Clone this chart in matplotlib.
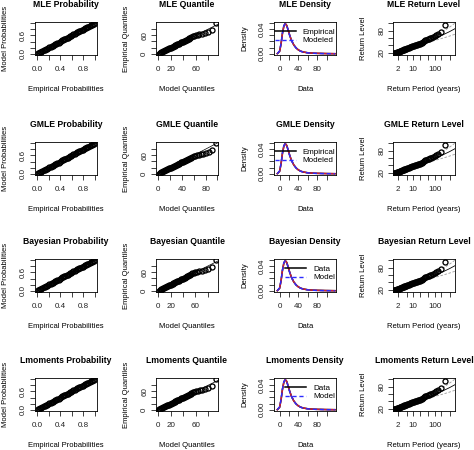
import matplotlib
matplotlib.use("Agg")
import matplotlib.pyplot as plt

# ---------------- data ----------------
methods = ["MLE", "GMLE", "Bayesian", "Lmoments"]
legend_labels = [("Empirical", "Modeled"), ("Empirical", "Modeled"),
                 ("Data", "Model"), ("Data", "Model")]

# probability plot (empirical vs model probabilities)
prob_emp = [0.01, 0.03, 0.05, 0.07, 0.09, 0.11, 0.13, 0.15, 0.17, 0.19,
            0.21, 0.23, 0.25, 0.27, 0.29, 0.31, 0.33, 0.35, 0.37, 0.39,
            0.41, 0.43, 0.45, 0.47, 0.49, 0.51, 0.53, 0.55, 0.57, 0.59,
            0.61, 0.63, 0.65, 0.67, 0.69, 0.71, 0.73, 0.75, 0.77, 0.79,
            0.81, 0.83, 0.85, 0.87, 0.89, 0.91, 0.93, 0.95, 0.97, 0.99]
prob_mod = [0.012, 0.028, 0.047, 0.066, 0.088, 0.108, 0.131, 0.152, 0.171, 0.192,
            0.214, 0.236, 0.251, 0.268, 0.287, 0.306, 0.327, 0.348, 0.369, 0.392,
            0.415, 0.436, 0.452, 0.468, 0.487, 0.508, 0.531, 0.553, 0.574, 0.596,
            0.617, 0.636, 0.655, 0.676, 0.697, 0.718, 0.738, 0.757, 0.774, 0.793,
            0.812, 0.832, 0.851, 0.872, 0.891, 0.911, 0.929, 0.948, 0.968, 0.987]

# quantile plots (model quantiles vs empirical quantiles), one pair per method
q_mod_mle = [0.5, 2, 3.5, 5, 6.5, 8, 9.5, 11, 12.5, 14, 15.5, 17, 18.5, 20, 21.5,
             23, 24.5, 26, 27.5, 29, 30.5, 32, 33.5, 35, 36.5, 38, 39.5, 41, 42.5,
             44, 45.5, 47, 48.5, 50, 51.5, 53, 55, 57, 60, 63, 66, 70, 75, 80, 86, 92]
q_emp_mle = [0.3, 1.8, 3.6, 5.2, 6.3, 8.1, 9.8, 10.8, 12.6, 14.3, 15.2, 17.1, 18.9,
             20.2, 21.3, 23.4, 24.6, 26.3, 27.2, 29.4, 30.8, 32.3, 33.2, 35.4, 36.9,
             38.3, 39.4, 41.6, 42.8, 44.5, 45.7, 47.4, 48.9, 50.6, 52.3, 54.1, 56.2,
             57.5, 59.8, 61.2, 62.5, 64.1, 66.3, 70.2, 75.5, 99.0]
q_mod_gmle = [0.5, 2.1, 3.7, 5.3, 6.9, 8.5, 10.1, 11.7, 13.3, 14.9, 16.5, 18.1, 19.7,
              21.3, 22.9, 24.5, 26.1, 27.7, 29.3, 30.9, 32.5, 34.1, 35.7, 37.3, 38.9,
              40.5, 42.1, 43.7, 45.3, 46.9, 48.5, 50.1, 51.7, 53.3, 55, 57, 59.5,
              62, 65, 68, 72, 76, 80, 85, 91, 97]
q_emp_gmle = [0.3, 1.8, 3.6, 5.2, 6.3, 8.1, 9.8, 10.8, 12.6, 14.3, 15.2, 17.1, 18.9,
              20.2, 21.3, 23.4, 24.6, 26.3, 27.2, 29.4, 30.8, 32.3, 33.2, 35.4, 36.9,
              38.3, 39.4, 41.6, 42.8, 44.5, 45.7, 47.4, 48.9, 50.6, 52.3, 54.1, 56.2,
              57.5, 59.8, 61.2, 62.5, 64.1, 66.3, 70.2, 75.5, 99.0]
q_mod_bayes = [0.6, 2.1, 3.6, 5.1, 6.6, 8.1, 9.6, 11.1, 12.6, 14.1, 15.6, 17.1, 18.6,
               20.1, 21.6, 23.1, 24.6, 26.1, 27.6, 29.1, 30.6, 32.1, 33.6, 35.1, 36.6,
               38.1, 39.6, 41.1, 42.6, 44.1, 45.6, 47.1, 48.6, 50.1, 51.6, 53.2, 55.2,
               57.3, 60.2, 63.3, 66.5, 70.5, 75.5, 80.5, 86.5, 93]
q_emp_bayes = q_emp_mle
q_mod_lmom = [0.4, 1.9, 3.4, 4.9, 6.4, 7.9, 9.4, 10.9, 12.4, 13.9, 15.4, 16.9, 18.4,
              19.9, 21.4, 22.9, 24.4, 25.9, 27.4, 28.9, 30.4, 31.9, 33.4, 34.9, 36.4,
              37.9, 39.4, 40.9, 42.4, 43.9, 45.4, 46.9, 48.4, 49.9, 51.4, 52.9, 54.8,
              56.8, 59.7, 62.7, 65.8, 69.7, 74.6, 79.5, 85.4, 91.5]
q_emp_lmom = q_emp_mle
q_pairs = [(q_mod_mle, q_emp_mle), (q_mod_gmle, q_emp_gmle),
           (q_mod_bayes, q_emp_bayes), (q_mod_lmom, q_emp_lmom)]
q_xticks = [[0, 20, 40, 60, 80], [0, 20, 40, 60, 80, 100],
            [0, 20, 40, 60, 80], [0, 20, 40, 60, 80]]
q_xlabels = [["0", "20", "", "60", ""], ["0", "", "40", "", "80", ""],
             ["0", "20", "", "60", ""], ["0", "20", "", "60", ""]]

# density plots
dens_x = [-5, 0, 3, 6, 9, 12, 15, 18, 21, 25, 30, 35, 40, 45, 50, 60, 70, 80, 90,
          100, 110, 118]
dens_emp = [0.0002, 0.004, 0.016, 0.033, 0.045, 0.049, 0.046, 0.039, 0.031, 0.022,
            0.0145, 0.0095, 0.0062, 0.0042, 0.0029, 0.0016, 0.001, 0.0007, 0.0005,
            0.0003, 0.0002, 0.0001]
dens_mod = [0.0, 0.005, 0.017, 0.034, 0.046, 0.0485, 0.0455, 0.0385, 0.0305, 0.0218,
            0.0142, 0.0093, 0.006, 0.004, 0.0027, 0.0014, 0.0008, 0.0005, 0.0003,
            0.0002, 0.0001, 0.0001]

# return level plots
rl_period = [1.2, 1.25, 1.3, 1.35, 1.4, 1.45, 1.5, 1.6, 1.7, 1.8, 1.9, 2.0, 2.1, 2.2,
             2.35, 2.5, 2.65, 2.8, 3.0, 3.2, 3.4, 3.6, 3.9, 4.2, 4.5, 4.8, 5.2, 5.7,
             6.2, 6.8, 7.5, 8.2, 9, 10, 11, 12.2, 13.5, 15, 16.5, 18.5, 20.5, 23,
             26, 29, 33, 37, 42, 48, 55, 63, 72, 85, 100, 120, 150, 200, 300]
rl_level = [17, 17.4, 17.8, 18.2, 18.6, 19.0, 19.3, 20.0, 20.6, 21.2, 21.8, 22.3,
            22.8, 23.2, 23.9, 24.5, 25.1, 25.7, 26.4, 27.1, 27.7, 28.3, 29.1, 29.9,
            30.6, 31.2, 32.0, 32.9, 33.7, 34.6, 35.6, 36.4, 37.2, 38.2, 39.0, 40.0,
            40.9, 41.8, 42.8, 43.9, 44.8, 46.0, 47.5, 49.5, 52.0, 53.5, 55.0, 56.5,
            58.0, 59.5, 61.0, 62.5, 64.0, 67.0, 70.0, 77.0, 95.0]
fit_period = [1.15, 2, 5, 10, 20, 50, 100, 200, 500, 900]
fit_level = [16.5, 22, 30.5, 37, 43.5, 52, 59, 66, 77, 85]
ci_low = [15.8, 21.2, 29.2, 35.2, 40.8, 47.8, 53, 58, 65, 70]
ci_up = [17.2, 22.8, 31.8, 38.8, 46.2, 56.2, 65, 74, 89, 100]

# ---------------- layout ----------------
W, H = 474, 450
fig = plt.figure(figsize=(W / 100, H / 100), dpi=100)
plt.rcParams["font.family"] = ["Liberation Sans", "DejaVu Sans"]

col_x = [35, 156, 274, 393]
row_y = [22, 142, 259, 378]
BW, BH = 62, 33
TICK_FS = 5.8
LAB_FS = 5.5
TITLE_FS = 6.2


def make_ax(col, row):
    x, y = col_x[col], row_y[row]
    ax = fig.add_axes([x / W, 1 - (y + BH) / H, BW / W, BH / H])
    for s in ax.spines.values():
        s.set_linewidth(0.6)
    ax.tick_params(direction="out", length=3.6, width=0.6, labelsize=TICK_FS,
                   top=False, right=False, colors="#222222")
    ax.tick_params(axis="x", pad=4.0)
    ax.tick_params(axis="y", pad=2.0, labelrotation=90)
    return ax


def finish(ax, title, xlabel, ylabel):
    ax.set_title(title, fontsize=TITLE_FS, fontweight="bold", pad=10.5)
    ax.set_xlabel(xlabel, fontsize=LAB_FS)
    ax.set_ylabel(ylabel, fontsize=LAB_FS)
    ax.xaxis.set_label_coords(0.5, -31.0 / BH)
    ax.yaxis.set_label_coords(-26.0 / BW, 0.5)
    for lbl in ax.get_yticklabels():
        lbl.set_va("center")


mk = dict(marker="o", ms=3.6, mfc="none", mec="black", mew=0.95, ls="none")

for r, m in enumerate(methods):
    # Probability
    ax = make_ax(0, r)
    ax.plot([0, 1], [0, 1], color="black", lw=0.5)
    ax.plot(prob_emp, prob_mod, **mk)
    ax.set_xlim(-0.04, 1.04)
    ax.set_ylim(-0.04, 1.04)
    ax.set_xticks([0, 0.2, 0.4, 0.6, 0.8, 1.0])
    ax.set_xticklabels(["0.0", "", "0.4", "", "0.8", ""])
    ax.set_yticks([0, 0.2, 0.4, 0.6, 0.8, 1.0])
    ax.set_yticklabels(["0.0", "", "", "0.6", "", ""])
    finish(ax, f"{m} Probability", "Empirical Probabilities", "Model Probabilities")

    # Quantile
    ax = make_ax(1, r)
    qm, qe = q_pairs[r]
    ax.plot(qm, qe, **mk)
    xmax = max(qm) * 1.04
    ymax = max(qe) * 1.04
    ax.plot([0, xmax], [0, xmax], color="black", lw=0.5)
    ax.set_xlim(-0.04 * max(qm), xmax)
    ax.set_ylim(-0.04 * max(qe), ymax)
    ax.set_xticks(q_xticks[r])
    ax.set_xticklabels(q_xlabels[r])
    ax.set_yticks([0, 20, 40, 60, 80])
    ax.set_yticklabels(["0", "", "", "60", ""])
    finish(ax, f"{m} Quantile", "Model Quantiles", "Empirical Quantiles")

    # Density
    ax = make_ax(2, r)
    l1, = ax.plot(dens_x, dens_emp, color="black", lw=1.1, label=legend_labels[r][0])
    ax.plot(dens_x, dens_emp, color="#c8203c", lw=1.1)
    l2, = ax.plot(dens_x, dens_mod, color="#2b2bff", lw=1.0, ls=(0, (3, 2)),
                  label=legend_labels[r][1])
    ax.set_xlim(-12, 120)
    ax.set_ylim(-0.002, 0.0515)
    ax.set_xticks([0, 20, 40, 60, 80, 100])
    ax.set_xticklabels(["0", "", "40", "", "80", ""])
    ax.set_yticks([0, 0.01, 0.02, 0.03, 0.04, 0.05])
    ax.set_yticklabels(["0.00", "", "", "", "0.04", ""])
    ax.legend(handles=[l1, l2], loc="upper right", frameon=False, fontsize=TICK_FS,
              bbox_to_anchor=(0.98, 1 - 6.0 / BH), borderaxespad=0, borderpad=0,
              handlelength=2.6, handletextpad=0.8, labelspacing=0.15)
    finish(ax, f"{m} Density", "Data", "Density")

    # Return level
    ax = make_ax(3, r)
    ax.set_xscale("log")
    ax.plot(fit_period, ci_low, color="#9a9a9a", lw=0.6, ls=(0, (3, 2)))
    ax.plot(fit_period, ci_up, color="#9a9a9a", lw=0.6, ls=(0, (3, 2)))
    ax.plot(rl_period, rl_level, **mk)
    ax.plot(fit_period, fit_level, color="black", lw=0.6)
    ax.set_xlim(1.15, 900)
    ax.set_ylim(14, 103)
    ax.set_xticks([2, 5, 10, 20, 50, 100, 200, 500])
    ax.set_xticklabels(["2", "", "10", "", "", "100", "", ""])
    ax.minorticks_off()
    ax.set_yticks([20, 40, 60, 80, 100])
    ax.set_yticklabels(["20", "", "", "80", ""])
    finish(ax, f"{m} Return Level", "Return Period (years)", "Return Level")

fig.savefig("out.png", dpi=100)
